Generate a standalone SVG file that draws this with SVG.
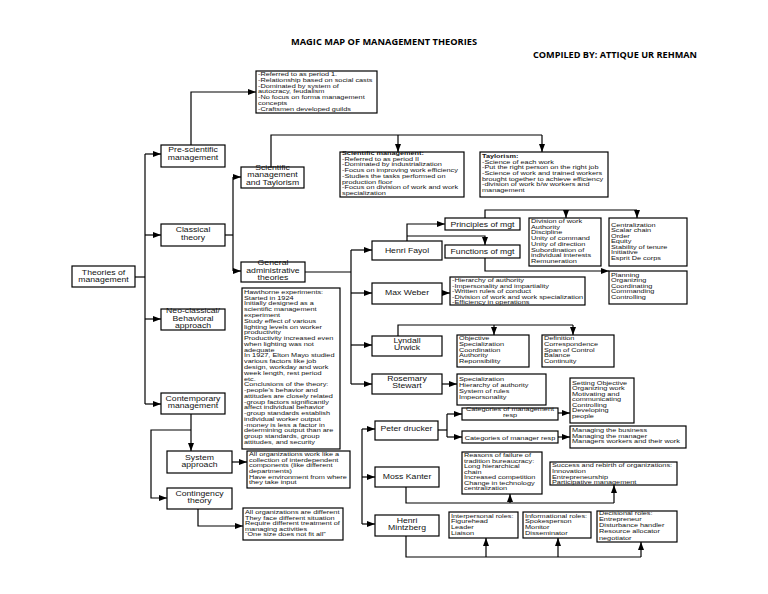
<svg xmlns="http://www.w3.org/2000/svg" width="768" height="594" viewBox="0 0 768 594">
<style>
.bx{fill:#fff;stroke:#000;stroke-width:1.2}
.ln{fill:none;stroke:#000;stroke-width:1.2}
.ar{fill:none;stroke:#000;stroke-width:1.2;marker-end:url(#ah)}
.n{font-family:"Liberation Sans",Arial,sans-serif;font-size:7.4px;text-anchor:middle;fill:#111}
.t{font-family:"Liberation Sans",Arial,sans-serif;font-size:6.2px;fill:#111}
.c{text-anchor:middle}
.tb{font-weight:bold}
.h{font-family:"Open Sans","Liberation Sans",Arial,sans-serif;font-weight:bold;font-size:9px;fill:#000}
</style>
<defs>
<marker id="ah" markerUnits="userSpaceOnUse" markerWidth="8" markerHeight="6" refX="8" refY="3" orient="auto">
<path d="M0,0 L8,3 L0,6 Z" fill="#000"/>
</marker>
</defs>
<rect width="768" height="594" fill="#fff"/>
<text class="h" x="291" y="44.5" textLength="186" lengthAdjust="spacingAndGlyphs">MAGIC MAP OF MANAGEMENT THEORIES</text>
<text class="h" x="533" y="58" textLength="164" lengthAdjust="spacingAndGlyphs">COMPILED BY: ATTIQUE UR REHMAN</text>

<g id="connectors">
<polyline class="ln" points="135,277 145,277"/>
<polyline class="ln" points="145,154 145,404"/>
<polyline class="ar" points="145,154 161,154"/>
<polyline class="ar" points="145,235 161,235"/>
<polyline class="ar" points="145,319 161,319"/>
<polyline class="ar" points="145,404 161,404"/>
<polyline class="ar" points="191,145 191,92 256,92"/>
<polyline class="ln" points="225,235 233,235"/>
<polyline class="ln" points="233,177 233,271"/>
<polyline class="ar" points="233,177 241,177"/>
<polyline class="ar" points="233,271 241,271"/>
<polyline class="ln" points="271,167 271,135 542,135"/>
<polyline class="ar" points="398,135 398,152"/>
<polyline class="ar" points="542,135 542,152"/>
<polyline class="ln" points="305,272 351,272"/>
<polyline class="ln" points="351,250 351,384"/>
<polyline class="ar" points="351,250 372,250"/>
<polyline class="ar" points="351,293 372,293"/>
<polyline class="ar" points="351,345 372,345"/>
<polyline class="ar" points="351,384 372,384"/>
<polyline class="ar" points="407,241 407,224 445,224"/>
<polyline class="ar" points="407,236 485,236 485,245"/>
<polyline class="ln" points="485,218 485,210 637,210"/>
<polyline class="ar" points="566,210 566,218"/>
<polyline class="ar" points="637,210 637,218"/>
<polyline class="ar" points="485,258 485,271 609,271"/>
<polyline class="ar" points="442,293 450,293"/>
<polyline class="ln" points="398,336 398,325 573,325"/>
<polyline class="ar" points="494,325 494,335"/>
<polyline class="ar" points="573,325 573,335"/>
<polyline class="ar" points="442,384 457,384"/>
<polyline class="ln" points="362,429 362,524"/>
<polyline class="ar" points="362,429 375,429"/>
<polyline class="ar" points="362,477 375,477"/>
<polyline class="ar" points="362,524 375,524"/>
<polyline class="ln" points="438,430 447,430"/>
<polyline class="ln" points="447,414 447,437"/>
<polyline class="ar" points="447,414 462,414"/>
<polyline class="ar" points="447,437 462,437"/>
<polyline class="ar" points="558,413 570,413"/>
<polyline class="ar" points="558,437 570,437"/>
<polyline class="ln" points="406,487 406,503 614,503"/>
<polyline class="ar" points="510,503 510,494"/>
<polyline class="ar" points="614,503 614,485"/>
<polyline class="ln" points="406,536 406,557 641,557"/>
<polyline class="ar" points="486,557 486,538"/>
<polyline class="ar" points="558,557 558,538"/>
<polyline class="ar" points="641,557 641,542"/>
<polyline class="ar" points="191,414 191,451"/>
<polyline class="ar" points="191,430 151,430 151,498 167,498"/>
<polyline class="ar" points="232,462 247,462"/>
<polyline class="ar" points="198,509 198,526 243,526"/>
</g>

<g id="theories">
<rect class="bx" x="72" y="266" width="63" height="21"/>
<g transform="translate(103.5 0) scale(1.17 1)">
<text class="n" x="0" y="275.3">Theories of</text>
<text class="n" x="0" y="282">management</text>
</g>
</g>
<g id="prescientific">
<rect class="bx" x="161" y="145" width="64" height="22"/>
<g transform="translate(193 0) scale(1.17 1)">
<text class="n" x="0" y="152.5">Pre-scientific</text>
<text class="n" x="0" y="160">management</text>
</g>
</g>
<g id="prescientific-notes">
<rect class="bx" x="256" y="71" width="121" height="42"/>
<g transform="translate(258 0) scale(1.18 1)">
<text class="t" x="0" y="76">-Referred to as period 1.</text>
<text class="t" x="0" y="81.8">-Relationship based on social casts</text>
<text class="t" x="0" y="87.6">-Dominated by system of</text>
<text class="t" x="0" y="93.4">autocracy, feudalism</text>
<text class="t" x="0" y="99.2">-No focus on forma management</text>
<text class="t" x="0" y="105">concepts</text>
<text class="t" x="0" y="110.8">-Craftsmen developed guilds</text>
</g>
</g>
<g id="classical">
<rect class="bx" x="161" y="224" width="64" height="22"/>
<g transform="translate(193 0) scale(1.17 1)">
<text class="n" x="0" y="232.5">Classical</text>
<text class="n" x="0" y="240">theory</text>
</g>
</g>
<g id="neoclassical">
<rect class="bx" x="161" y="309" width="64" height="21"/>
<g transform="translate(193 0) scale(1.17 1)">
<text class="n" x="0" y="313.5">Neo-classical/</text>
<text class="n" x="0" y="321">Behavioral</text>
<text class="n" x="0" y="328">approach</text>
</g>
</g>
<g id="contemporary">
<rect class="bx" x="161" y="393" width="64" height="21"/>
<g transform="translate(193 0) scale(1.17 1)">
<text class="n" x="0" y="401.5">Contemporary</text>
<text class="n" x="0" y="408.5">management</text>
</g>
</g>
<g id="scientific">
<rect class="bx" x="241" y="167" width="63" height="21"/>
<g transform="translate(272.5 0) scale(1.17 1)">
<text class="n" x="0" y="170.5">Scientific</text>
<text class="n" x="0" y="177.5">management</text>
<text class="n" x="0" y="185">and Taylorism</text>
</g>
</g>
<g id="sci-notes">
<rect class="bx" x="340" y="152" width="124" height="45"/>
<g transform="translate(342 0) scale(1.18 1)">
<text class="t tb" x="0" y="155">Scientific management:</text>
<text class="t" x="0" y="160.7">-Referred to as period II</text>
<text class="t" x="0" y="166.4">-Dominated by industrialization</text>
<text class="t" x="0" y="172.1">-Focus on improving work efficiency</text>
<text class="t" x="0" y="177.9">-Studies the tasks performed on</text>
<text class="t" x="0" y="183.6">production floor</text>
<text class="t" x="0" y="189.3">-Focus on division of work and work</text>
<text class="t" x="0" y="195">specialization</text>
</g>
</g>
<g id="taylorism">
<rect class="bx" x="480" y="152" width="128" height="45"/>
<g transform="translate(482 0) scale(1.18 1)">
<text class="t tb" x="0" y="158">Taylorism:</text>
<text class="t" x="0" y="163.7">-Science of each work</text>
<text class="t" x="0" y="169.3">-Put the right person on the right job</text>
<text class="t" x="0" y="175">-Science of work and trained workers</text>
<text class="t" x="0" y="180.7">brought together to achieve efficiency</text>
<text class="t" x="0" y="186.3">-division of work b/w workers and</text>
<text class="t" x="0" y="192">management</text>
</g>
</g>
<g id="general-admin">
<rect class="bx" x="241" y="262" width="64" height="20"/>
<g transform="translate(273 0) scale(1.17 1)">
<text class="n" x="0" y="265.5">General</text>
<text class="n" x="0" y="273">administrative</text>
<text class="n" x="0" y="279.8">theories</text>
</g>
</g>
<g id="hawthorne">
<rect class="bx" x="242" y="288" width="98" height="161"/>
<g transform="translate(244 0) scale(1.18 1)">
<text class="t" x="0" y="294">Hawthorne experiments:</text>
<text class="t" x="0" y="299.8">Started in 1924</text>
<text class="t" x="0" y="305.5">Initially designed as a</text>
<text class="t" x="0" y="311.3">scientific management</text>
<text class="t" x="0" y="317.1">experiment</text>
<text class="t" x="0" y="322.9">Study effect of various</text>
<text class="t" x="0" y="328.6">lighting levels on worker</text>
<text class="t" x="0" y="334.4">productivity</text>
<text class="t" x="0" y="340.2">Productivity increased even</text>
<text class="t" x="0" y="345.9">when lighting was not</text>
<text class="t" x="0" y="351.7">adequate</text>
<text class="t" x="0" y="357.5">In 1927, Elton Mayo studied</text>
<text class="t" x="0" y="363.2">various factors like job</text>
<text class="t" x="0" y="369">design, workday and work</text>
<text class="t" x="0" y="374.8">week length, rest period</text>
<text class="t" x="0" y="380.6">etc.</text>
<text class="t" x="0" y="386.3">Conclusions of the theory:</text>
<text class="t" x="0" y="392.1">-people’s behavior and</text>
<text class="t" x="0" y="397.9">attitudes are closely related</text>
<text class="t" x="0" y="403.6">-group factors significantly</text>
<text class="t" x="0" y="409.4">affect individual behavior</text>
<text class="t" x="0" y="415.2">-group standards establish</text>
<text class="t" x="0" y="420.9">individual worker output</text>
<text class="t" x="0" y="426.7">-money is less a factor in</text>
<text class="t" x="0" y="432.5">determining output than are</text>
<text class="t" x="0" y="438.2">group standards, group</text>
<text class="t" x="0" y="444">attitudes, and security</text>
</g>
</g>
<g id="henri-fayol">
<rect class="bx" x="372" y="241" width="70" height="19"/>
<g transform="translate(407 0) scale(1.17 1)">
<text class="n" x="0" y="253">Henri Fayol</text>
</g>
</g>
<g id="principles">
<rect class="bx" x="445" y="218" width="75" height="12"/>
<g transform="translate(482.5 0) scale(1.17 1)">
<text class="n" x="0" y="226.8">Principles of mgt</text>
</g>
</g>
<g id="functions">
<rect class="bx" x="445" y="245" width="75" height="13"/>
<g transform="translate(482.5 0) scale(1.17 1)">
<text class="n" x="0" y="254">Functions of mgt</text>
</g>
</g>
<g id="principles-1">
<rect class="bx" x="529" y="218" width="72" height="48"/>
<g transform="translate(531 0) scale(1.18 1)">
<text class="t" x="0" y="223">Division of work</text>
<text class="t" x="0" y="228.7">Authority</text>
<text class="t" x="0" y="234.4">Discipline</text>
<text class="t" x="0" y="240.2">Unity of command</text>
<text class="t" x="0" y="245.9">Unity of direction</text>
<text class="t" x="0" y="251.6">Subordination of</text>
<text class="t" x="0" y="257.3">individual interests</text>
<text class="t" x="0" y="263">Remuneration</text>
</g>
</g>
<g id="principles-2">
<rect class="bx" x="609" y="218" width="78" height="48"/>
<g transform="translate(611 0) scale(1.18 1)">
<text class="t" x="0" y="227">Centralization</text>
<text class="t" x="0" y="232.5">Scalar chain</text>
<text class="t" x="0" y="238">Order</text>
<text class="t" x="0" y="243.4">Equity</text>
<text class="t" x="0" y="248.8">Stability of tenure</text>
<text class="t" x="0" y="254.2">Initiative</text>
<text class="t" x="0" y="259.6">Esprit De corps</text>
</g>
</g>
<g id="functions-list">
<rect class="bx" x="609" y="271" width="78" height="33"/>
<g transform="translate(611 0) scale(1.18 1)">
<text class="t" x="0" y="277">Planning</text>
<text class="t" x="0" y="282.5">Organizing</text>
<text class="t" x="0" y="287.9">Coordinating</text>
<text class="t" x="0" y="293.4">Commanding</text>
<text class="t" x="0" y="298.8">Controlling</text>
</g>
</g>
<g id="max-weber">
<rect class="bx" x="372" y="283" width="70" height="21"/>
<g transform="translate(407 0) scale(1.17 1)">
<text class="n" x="0" y="295">Max Weber</text>
</g>
</g>
<g id="weber-notes">
<rect class="bx" x="450" y="277" width="135" height="28"/>
<g transform="translate(452 0) scale(1.18 1)">
<text class="t" x="0" y="282.3">-Hierarchy of authority</text>
<text class="t" x="0" y="287.8">-Impersonality and impartiality</text>
<text class="t" x="0" y="293.3">-Written rules of conduct</text>
<text class="t" x="0" y="298.8">-Division of work and work specialization</text>
<text class="t" x="0" y="304.2">-Efficiency in operations</text>
</g>
</g>
<g id="lyndall-urwick">
<rect class="bx" x="372" y="336" width="70" height="20"/>
<g transform="translate(407 0) scale(1.17 1)">
<text class="n" x="0" y="343">Lyndall</text>
<text class="n" x="0" y="350">Urwick</text>
</g>
</g>
<g id="urwick-1">
<rect class="bx" x="457" y="335" width="72" height="32"/>
<g transform="translate(459 0) scale(1.18 1)">
<text class="t" x="0" y="340.5">Objective</text>
<text class="t" x="0" y="346.1">Specialization</text>
<text class="t" x="0" y="351.7">Coordination</text>
<text class="t" x="0" y="357.2">Authority</text>
<text class="t" x="0" y="362.8">Reponsibility</text>
</g>
</g>
<g id="urwick-2">
<rect class="bx" x="542" y="335" width="72" height="32"/>
<g transform="translate(544 0) scale(1.18 1)">
<text class="t" x="0" y="340.5">Definition</text>
<text class="t" x="0" y="346.1">Correspondence</text>
<text class="t" x="0" y="351.7">Span of Control</text>
<text class="t" x="0" y="357.2">Balance</text>
<text class="t" x="0" y="362.8">Continuity</text>
</g>
</g>
<g id="rosemary-stewart">
<rect class="bx" x="372" y="374" width="70" height="20"/>
<g transform="translate(407 0) scale(1.17 1)">
<text class="n" x="0" y="381.5">Rosemary</text>
<text class="n" x="0" y="388.5">Stewart</text>
</g>
</g>
<g id="stewart-notes">
<rect class="bx" x="457" y="374" width="89" height="31"/>
<g transform="translate(459 0) scale(1.18 1)">
<text class="t" x="0" y="381.5">Specialization</text>
<text class="t" x="0" y="387.2">Hierarchy of authority</text>
<text class="t" x="0" y="392.9">System of rules</text>
<text class="t" x="0" y="398.8">Impeorsonality</text>
</g>
</g>
<g id="setting-objective">
<rect class="bx" x="570" y="378" width="64" height="45"/>
<g transform="translate(572 0) scale(1.18 1)">
<text class="t" x="0" y="384.8">Setting Objective</text>
<text class="t" x="0" y="390.3">Organizing work</text>
<text class="t" x="0" y="395.8">Motivating and</text>
<text class="t" x="0" y="401.4">communicating</text>
<text class="t" x="0" y="406.9">Controlling</text>
<text class="t" x="0" y="412.4">Developing</text>
<text class="t" x="0" y="418">people</text>
</g>
</g>
<g id="peter-drucker">
<rect class="bx" x="375" y="421" width="63" height="19"/>
<g transform="translate(406.5 0) scale(1.17 1)">
<text class="n" x="0" y="431">Peter drucker</text>
</g>
</g>
<g id="cat-management">
<rect class="bx" x="462" y="408" width="96" height="12"/>
<g transform="translate(510 0) scale(1.18 1)">
<text class="t c" x="0" y="411.3">Categories of management</text>
<text class="t c" x="0" y="417.3">resp</text>
</g>
</g>
<g id="cat-manager">
<rect class="bx" x="462" y="431" width="96" height="12"/>
<g transform="translate(510 0) scale(1.18 1)">
<text class="t c" x="0" y="440.3">Categories of manager resp</text>
</g>
</g>
<g id="managing">
<rect class="bx" x="570" y="426" width="116" height="22"/>
<g transform="translate(572 0) scale(1.18 1)">
<text class="t" x="0" y="432.2">Managing the business</text>
<text class="t" x="0" y="437.6">Managing the manager</text>
<text class="t" x="0" y="443">Managers workers and their work</text>
</g>
</g>
<g id="moss-kanter">
<rect class="bx" x="375" y="467" width="64" height="20"/>
<g transform="translate(407 0) scale(1.17 1)">
<text class="n" x="0" y="478.8">Moss Kanter</text>
</g>
</g>
<g id="kanter-failure">
<rect class="bx" x="462" y="452" width="80" height="42"/>
<g transform="translate(464 0) scale(1.18 1)">
<text class="t" x="0" y="457.2">Reasons of failure of</text>
<text class="t" x="0" y="462.8">tradition bureaucracy:</text>
<text class="t" x="0" y="468.3">Long hierarchical</text>
<text class="t" x="0" y="473.9">chain</text>
<text class="t" x="0" y="479.4">Increased competition</text>
<text class="t" x="0" y="485">Change in technology</text>
<text class="t" x="0" y="490.5">centralization</text>
</g>
</g>
<g id="kanter-success">
<rect class="bx" x="550" y="462" width="127" height="23"/>
<g transform="translate(552 0) scale(1.18 1)">
<text class="t" x="0" y="467.2">Success and rebirth of organizations:</text>
<text class="t" x="0" y="472.9">Innovation</text>
<text class="t" x="0" y="478.7">Entrepreneurship</text>
<text class="t" x="0" y="484.4">Participative management</text>
</g>
</g>
<g id="henri-mintzberg">
<rect class="bx" x="375" y="515" width="64" height="21"/>
<g transform="translate(407 0) scale(1.17 1)">
<text class="n" x="0" y="523.5">Henri</text>
<text class="n" x="0" y="530.2">Mintzberg</text>
</g>
</g>
<g id="interpersonal">
<rect class="bx" x="449" y="512" width="69" height="26"/>
<g transform="translate(451 0) scale(1.18 1)">
<text class="t" x="0" y="517.8">Interpersonal roles:</text>
<text class="t" x="0" y="523.5">Figurehead</text>
<text class="t" x="0" y="529.1">Leader</text>
<text class="t" x="0" y="534.8">Liaison</text>
</g>
</g>
<g id="informational">
<rect class="bx" x="523" y="512" width="68" height="26"/>
<g transform="translate(525 0) scale(1.18 1)">
<text class="t" x="0" y="517.8">Informational roles:</text>
<text class="t" x="0" y="523.5">Spokesperson</text>
<text class="t" x="0" y="529.1">Monitor</text>
<text class="t" x="0" y="534.8">Disseminator</text>
</g>
</g>
<g id="decisional">
<rect class="bx" x="597" y="511" width="80" height="31"/>
<g transform="translate(599 0) scale(1.18 1)">
<text class="t" x="0" y="515.4">Decisional roles:</text>
<text class="t" x="0" y="521.4">Entrepreneur</text>
<text class="t" x="0" y="527.5">Disturbance handler</text>
<text class="t" x="0" y="533.5">Resource allocator</text>
<text class="t" x="0" y="539.6">negotiator</text>
</g>
</g>
<g id="system-approach">
<rect class="bx" x="167" y="451" width="65" height="22"/>
<g transform="translate(199.5 0) scale(1.17 1)">
<text class="n" x="0" y="460">System</text>
<text class="n" x="0" y="467">approach</text>
</g>
</g>
<g id="system-notes">
<rect class="bx" x="247" y="451" width="103" height="37"/>
<g transform="translate(249 0) scale(1.18 1)">
<text class="t" x="0" y="456.2">All organizations work like a</text>
<text class="t" x="0" y="461.8">collection of interdependent</text>
<text class="t" x="0" y="467.5">components (like different</text>
<text class="t" x="0" y="473.1">departments)</text>
<text class="t" x="0" y="478.8">Have environment from where</text>
<text class="t" x="0" y="484.4">they take input</text>
</g>
</g>
<g id="contingency">
<rect class="bx" x="167" y="488" width="65" height="21"/>
<g transform="translate(199.5 0) scale(1.17 1)">
<text class="n" x="0" y="496.3">Contingency</text>
<text class="n" x="0" y="503.5">theory</text>
</g>
</g>
<g id="contingency-notes">
<rect class="bx" x="243" y="508" width="100" height="32"/>
<g transform="translate(245 0) scale(1.18 1)">
<text class="t" x="0" y="514.5">All organizations are different</text>
<text class="t" x="0" y="520">They face different situation</text>
<text class="t" x="0" y="525.5">Require different treatment of</text>
<text class="t" x="0" y="531">managing activities</text>
<text class="t" x="0" y="536.5">“One size does not fit all”</text>
</g>
</g>
</svg>
